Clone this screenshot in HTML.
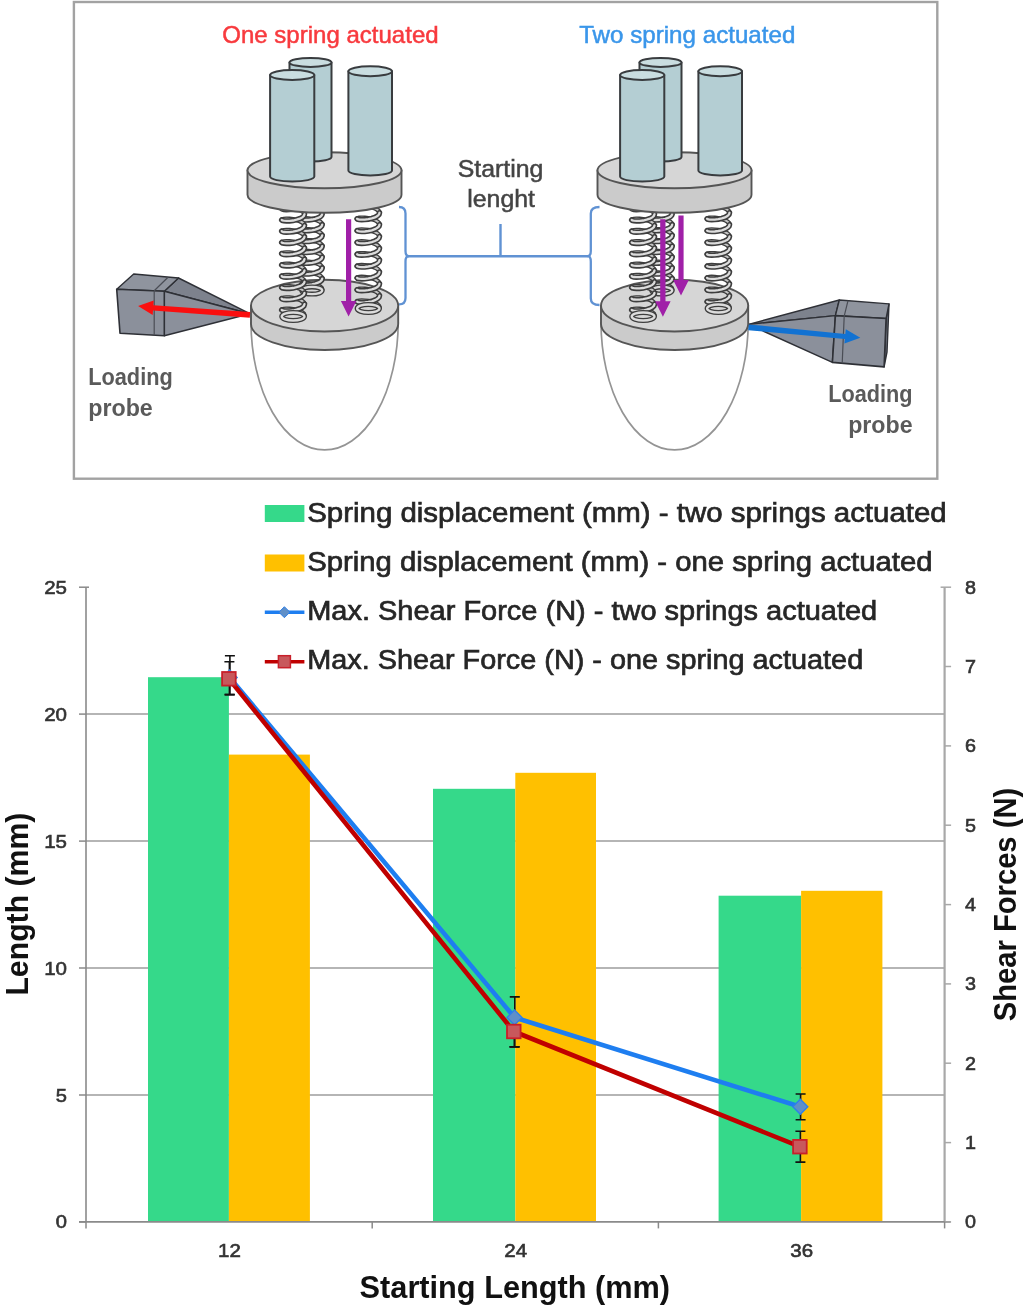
<!DOCTYPE html>
<html lang="en"><head><meta charset="utf-8"><title>Spring actuation figure</title>
<style>
html,body{margin:0;padding:0;background:#fff;}
body{width:1025px;height:1310px;overflow:hidden;}
svg{display:block;filter:blur(0.55px);}
</style></head><body>
<svg width="1025" height="1310" viewBox="0 0 1025 1310" font-family="'Liberation Sans', sans-serif">
<rect width="1025" height="1310" fill="#fff"/>
<rect x="73.9" y="2" width="863.4" height="476.7" fill="#fff" stroke="#a2a2a2" stroke-width="2.4"/>
<path d="M178.5,278 L249.8,313.7 L164.3,291.2 Z" fill="#7d828d" stroke="#2e3036" stroke-width="1.4" stroke-linejoin="round"/>
<path d="M164.3,291.2 L249.8,313.7 L164.3,335.7 Z" fill="#8b909b" stroke="#2e3036" stroke-width="1.4" stroke-linejoin="round"/>
<path d="M116.7,289.3 L133.7,274 L178.5,278 L164.3,291.2 Z" fill="#8f949e" stroke="#2e3036" stroke-width="1.4" stroke-linejoin="round"/>
<path d="M116.7,289.3 L164.3,291.2 L164.3,335.7 L120,333.2 Z" fill="#8b909b" stroke="#2e3036" stroke-width="1.6" stroke-linejoin="round"/>
<path d="M154.2,290.8 L154.2,335.2 M154.2,290.8 L168,277.2" fill="none" stroke="#4a4d55" stroke-width="1.2"/>
<path d="M839.3,300 L748.5,324.4 L835.4,315.6 Z" fill="#7d828d" stroke="#2e3036" stroke-width="1.4" stroke-linejoin="round"/>
<path d="M835.4,315.6 L748.5,324.4 L832.4,362.4 Z" fill="#8b909b" stroke="#2e3036" stroke-width="1.4" stroke-linejoin="round"/>
<path d="M886.1,318.5 L889,303.9 L887,352 L884.1,366.9 Z" fill="#6f747f" stroke="#2e3036" stroke-width="1.4" stroke-linejoin="round"/>
<path d="M835.4,315.6 L839.3,300 L889,303.9 L886.1,318.5 Z" fill="#8f949e" stroke="#2e3036" stroke-width="1.4" stroke-linejoin="round"/>
<path d="M835.4,315.6 L886.1,318.5 L884.1,366.9 L832.4,362.4 Z" fill="#8b909b" stroke="#2e3036" stroke-width="1.6" stroke-linejoin="round"/>
<path d="M844.2,316.1 L842.2,363.2 M844.2,316.1 L848,300.7" fill="none" stroke="#4a4d55" stroke-width="1.2"/>
<g transform="translate(0,0)">
<path d="M251,322 A73.6,128 0 0 0 398.2,322" fill="#fff" stroke="#949494" stroke-width="1.7"/>
<path d="M251,305.6 L251,324.1 A73.6,25.9 0 0 0 398.2,324.1 L398.2,305.6 Z" fill="#cbcbcb" stroke="#555" stroke-width="1.9" stroke-linejoin="round"/>
<ellipse cx="324.6" cy="305.6" rx="73.6" ry="25.9" fill="#d6d6d6" stroke="#555" stroke-width="1.9"/>
<path d="M301.8,208.4 L302.3,208 L303.7,207.7 L306,207.6 L308.8,207.7 L312,208.1 L315.2,208.8 L318,209.8 L320.3,211 L321.7,212.3 L322.2,213.8 M301.8,219.2 L302.3,218.8 L303.7,218.5 L306,218.4 L308.8,218.5 L312,218.9 L315.2,219.6 L318,220.6 L320.3,221.8 L321.7,223.2 L322.2,224.6 M301.8,230 L302.3,229.6 L303.7,229.3 L306,229.2 L308.8,229.3 L312,229.7 L315.2,230.4 L318,231.4 L320.3,232.6 L321.7,234 L322.2,235.4 M301.8,240.8 L302.3,240.5 L303.7,240.2 L306,240 L308.8,240.2 L312,240.5 L315.2,241.2 L318,242.2 L320.3,243.4 L321.7,244.8 L322.2,246.2 M301.8,251.7 L302.3,251.3 L303.7,251 L306,250.9 L308.8,251 L312,251.4 L315.2,252 L318,253 L320.3,254.2 L321.7,255.6 L322.2,257.1 M301.8,262.5 L302.3,262.1 L303.7,261.8 L306,261.7 L308.8,261.8 L312,262.2 L315.2,262.9 L318,263.8 L320.3,265 L321.7,266.4 L322.2,267.9 M301.8,273.3 L302.3,272.9 L303.7,272.6 L306,272.5 L308.8,272.6 L312,273 L315.2,273.7 L318,274.6 L320.3,275.8 L321.7,277.2 L322.2,278.7 M301.8,284.1 L302.3,283.7 L303.7,283.4 L306,283.3 L308.8,283.4 L312,283.8 L315.2,284.5 L318,285.5 L320.3,286.7 L321.7,288 L322.2,289.5" fill="none" stroke="#3e3e3e" stroke-width="4.6" stroke-linecap="round"/>
<path d="M301.8,208.4 L302.3,208 L303.7,207.7 L306,207.6 L308.8,207.7 L312,208.1 L315.2,208.8 L318,209.8 L320.3,211 L321.7,212.3 L322.2,213.8 M301.8,219.2 L302.3,218.8 L303.7,218.5 L306,218.4 L308.8,218.5 L312,218.9 L315.2,219.6 L318,220.6 L320.3,221.8 L321.7,223.2 L322.2,224.6 M301.8,230 L302.3,229.6 L303.7,229.3 L306,229.2 L308.8,229.3 L312,229.7 L315.2,230.4 L318,231.4 L320.3,232.6 L321.7,234 L322.2,235.4 M301.8,240.8 L302.3,240.5 L303.7,240.2 L306,240 L308.8,240.2 L312,240.5 L315.2,241.2 L318,242.2 L320.3,243.4 L321.7,244.8 L322.2,246.2 M301.8,251.7 L302.3,251.3 L303.7,251 L306,250.9 L308.8,251 L312,251.4 L315.2,252 L318,253 L320.3,254.2 L321.7,255.6 L322.2,257.1 M301.8,262.5 L302.3,262.1 L303.7,261.8 L306,261.7 L308.8,261.8 L312,262.2 L315.2,262.9 L318,263.8 L320.3,265 L321.7,266.4 L322.2,267.9 M301.8,273.3 L302.3,272.9 L303.7,272.6 L306,272.5 L308.8,272.6 L312,273 L315.2,273.7 L318,274.6 L320.3,275.8 L321.7,277.2 L322.2,278.7 M301.8,284.1 L302.3,283.7 L303.7,283.4 L306,283.3 L308.8,283.4 L312,283.8 L315.2,284.5 L318,285.5 L320.3,286.7 L321.7,288 L322.2,289.5" fill="none" stroke="#c4c4c4" stroke-width="2" stroke-linecap="round"/>
<path d="M322.2,203 L321.7,204.5 L320.3,205.8 L318,207 L315.2,208 L312,208.7 L308.8,209.1 L306,209.2 L303.7,209.1 L302.3,208.8 L301.8,208.4" fill="none" stroke="#3e3e3e" stroke-width="5.5" stroke-linecap="round"/>
<path d="M322.2,203 L321.7,204.5 L320.3,205.8 L318,207 L315.2,208 L312,208.7 L308.8,209.1 L306,209.2 L303.7,209.1 L302.3,208.8 L301.8,208.4" fill="none" stroke="#dcdcdc" stroke-width="2.3" stroke-linecap="round"/>
<path d="M322.2,213.8 L321.7,215.3 L320.3,216.7 L318,217.9 L315.2,218.8 L312,219.5 L308.8,219.9 L306,220 L303.7,219.9 L302.3,219.6 L301.8,219.2" fill="none" stroke="#3e3e3e" stroke-width="5.5" stroke-linecap="round"/>
<path d="M322.2,213.8 L321.7,215.3 L320.3,216.7 L318,217.9 L315.2,218.8 L312,219.5 L308.8,219.9 L306,220 L303.7,219.9 L302.3,219.6 L301.8,219.2" fill="none" stroke="#dcdcdc" stroke-width="2.3" stroke-linecap="round"/>
<path d="M322.2,224.6 L321.7,226.1 L320.3,227.5 L318,228.7 L315.2,229.6 L312,230.3 L308.8,230.7 L306,230.8 L303.7,230.7 L302.3,230.4 L301.8,230" fill="none" stroke="#3e3e3e" stroke-width="5.5" stroke-linecap="round"/>
<path d="M322.2,224.6 L321.7,226.1 L320.3,227.5 L318,228.7 L315.2,229.6 L312,230.3 L308.8,230.7 L306,230.8 L303.7,230.7 L302.3,230.4 L301.8,230" fill="none" stroke="#dcdcdc" stroke-width="2.3" stroke-linecap="round"/>
<path d="M322.2,235.4 L321.7,236.9 L320.3,238.3 L318,239.5 L315.2,240.5 L312,241.1 L308.8,241.5 L306,241.6 L303.7,241.5 L302.3,241.2 L301.8,240.8" fill="none" stroke="#3e3e3e" stroke-width="5.5" stroke-linecap="round"/>
<path d="M322.2,235.4 L321.7,236.9 L320.3,238.3 L318,239.5 L315.2,240.5 L312,241.1 L308.8,241.5 L306,241.6 L303.7,241.5 L302.3,241.2 L301.8,240.8" fill="none" stroke="#dcdcdc" stroke-width="2.3" stroke-linecap="round"/>
<path d="M322.2,246.2 L321.7,247.7 L320.3,249.1 L318,250.3 L315.2,251.3 L312,252 L308.8,252.3 L306,252.5 L303.7,252.3 L302.3,252 L301.8,251.7" fill="none" stroke="#3e3e3e" stroke-width="5.5" stroke-linecap="round"/>
<path d="M322.2,246.2 L321.7,247.7 L320.3,249.1 L318,250.3 L315.2,251.3 L312,252 L308.8,252.3 L306,252.5 L303.7,252.3 L302.3,252 L301.8,251.7" fill="none" stroke="#dcdcdc" stroke-width="2.3" stroke-linecap="round"/>
<path d="M322.2,257.1 L321.7,258.5 L320.3,259.9 L318,261.1 L315.2,262.1 L312,262.8 L308.8,263.2 L306,263.3 L303.7,263.2 L302.3,262.9 L301.8,262.5" fill="none" stroke="#3e3e3e" stroke-width="5.5" stroke-linecap="round"/>
<path d="M322.2,257.1 L321.7,258.5 L320.3,259.9 L318,261.1 L315.2,262.1 L312,262.8 L308.8,263.2 L306,263.3 L303.7,263.2 L302.3,262.9 L301.8,262.5" fill="none" stroke="#dcdcdc" stroke-width="2.3" stroke-linecap="round"/>
<path d="M322.2,267.9 L321.7,269.3 L320.3,270.7 L318,271.9 L315.2,272.9 L312,273.6 L308.8,274 L306,274.1 L303.7,274 L302.3,273.7 L301.8,273.3" fill="none" stroke="#3e3e3e" stroke-width="5.5" stroke-linecap="round"/>
<path d="M322.2,267.9 L321.7,269.3 L320.3,270.7 L318,271.9 L315.2,272.9 L312,273.6 L308.8,274 L306,274.1 L303.7,274 L302.3,273.7 L301.8,273.3" fill="none" stroke="#dcdcdc" stroke-width="2.3" stroke-linecap="round"/>
<path d="M322.2,278.7 L321.7,280.2 L320.3,281.5 L318,282.7 L315.2,283.7 L312,284.4 L308.8,284.8 L306,284.9 L303.7,284.8 L302.3,284.5 L301.8,284.1" fill="none" stroke="#3e3e3e" stroke-width="5.5" stroke-linecap="round"/>
<path d="M322.2,278.7 L321.7,280.2 L320.3,281.5 L318,282.7 L315.2,283.7 L312,284.4 L308.8,284.8 L306,284.9 L303.7,284.8 L302.3,284.5 L301.8,284.1" fill="none" stroke="#dcdcdc" stroke-width="2.3" stroke-linecap="round"/>
<ellipse cx="312" cy="290.5" rx="10.2" ry="3.6" fill="none" stroke="#3e3e3e" stroke-width="5" />
<ellipse cx="312" cy="290.5" rx="10.2" ry="3.6" fill="none" stroke="#dcdcdc" stroke-width="2.3" />
<path d="M281.7,208.6 L282.3,208.1 L283.9,207.8 L286.4,207.6 L289.6,207.6 L293.1,208 L296.6,208.8 L299.8,209.8 L302.3,211.1 L303.9,212.6 L304.5,214.2 M281.7,219.9 L282.3,219.4 L283.9,219 L286.4,218.8 L289.6,218.9 L293.1,219.3 L296.6,220 L299.8,221.1 L302.3,222.4 L303.9,223.9 L304.5,225.5 M281.7,231.1 L282.3,230.6 L283.9,230.3 L286.4,230.1 L289.6,230.1 L293.1,230.5 L296.6,231.3 L299.8,232.3 L302.3,233.6 L303.9,235.1 L304.5,236.8 M281.7,242.4 L282.3,241.9 L283.9,241.5 L286.4,241.3 L289.6,241.4 L293.1,241.8 L296.6,242.5 L299.8,243.6 L302.3,244.9 L303.9,246.4 L304.5,248 M281.7,253.6 L282.3,253.1 L283.9,252.8 L286.4,252.6 L289.6,252.6 L293.1,253 L296.6,253.8 L299.8,254.8 L302.3,256.1 L303.9,257.6 L304.5,259.2 M281.7,264.9 L282.3,264.4 L283.9,264 L286.4,263.8 L289.6,263.9 L293.1,264.3 L296.6,265 L299.8,266.1 L302.3,267.4 L303.9,268.9 L304.5,270.5 M281.7,276.1 L282.3,275.6 L283.9,275.3 L286.4,275.1 L289.6,275.1 L293.1,275.5 L296.6,276.3 L299.8,277.3 L302.3,278.6 L303.9,280.1 L304.5,281.8 M281.7,287.4 L282.3,286.9 L283.9,286.5 L286.4,286.3 L289.6,286.4 L293.1,286.8 L296.6,287.5 L299.8,288.6 L302.3,289.9 L303.9,291.4 L304.5,293 M281.7,298.6 L282.3,298.1 L283.9,297.8 L286.4,297.6 L289.6,297.6 L293.1,298 L296.6,298.8 L299.8,299.8 L302.3,301.1 L303.9,302.6 L304.5,304.2 M281.7,309.9 L282.3,309.4 L283.9,309 L286.4,308.8 L289.6,308.9 L293.1,309.3 L296.6,310 L299.8,311.1 L302.3,312.4 L303.9,313.9 L304.5,315.5" fill="none" stroke="#3e3e3e" stroke-width="4.6" stroke-linecap="round"/>
<path d="M281.7,208.6 L282.3,208.1 L283.9,207.8 L286.4,207.6 L289.6,207.6 L293.1,208 L296.6,208.8 L299.8,209.8 L302.3,211.1 L303.9,212.6 L304.5,214.2 M281.7,219.9 L282.3,219.4 L283.9,219 L286.4,218.8 L289.6,218.9 L293.1,219.3 L296.6,220 L299.8,221.1 L302.3,222.4 L303.9,223.9 L304.5,225.5 M281.7,231.1 L282.3,230.6 L283.9,230.3 L286.4,230.1 L289.6,230.1 L293.1,230.5 L296.6,231.3 L299.8,232.3 L302.3,233.6 L303.9,235.1 L304.5,236.8 M281.7,242.4 L282.3,241.9 L283.9,241.5 L286.4,241.3 L289.6,241.4 L293.1,241.8 L296.6,242.5 L299.8,243.6 L302.3,244.9 L303.9,246.4 L304.5,248 M281.7,253.6 L282.3,253.1 L283.9,252.8 L286.4,252.6 L289.6,252.6 L293.1,253 L296.6,253.8 L299.8,254.8 L302.3,256.1 L303.9,257.6 L304.5,259.2 M281.7,264.9 L282.3,264.4 L283.9,264 L286.4,263.8 L289.6,263.9 L293.1,264.3 L296.6,265 L299.8,266.1 L302.3,267.4 L303.9,268.9 L304.5,270.5 M281.7,276.1 L282.3,275.6 L283.9,275.3 L286.4,275.1 L289.6,275.1 L293.1,275.5 L296.6,276.3 L299.8,277.3 L302.3,278.6 L303.9,280.1 L304.5,281.8 M281.7,287.4 L282.3,286.9 L283.9,286.5 L286.4,286.3 L289.6,286.4 L293.1,286.8 L296.6,287.5 L299.8,288.6 L302.3,289.9 L303.9,291.4 L304.5,293 M281.7,298.6 L282.3,298.1 L283.9,297.8 L286.4,297.6 L289.6,297.6 L293.1,298 L296.6,298.8 L299.8,299.8 L302.3,301.1 L303.9,302.6 L304.5,304.2 M281.7,309.9 L282.3,309.4 L283.9,309 L286.4,308.8 L289.6,308.9 L293.1,309.3 L296.6,310 L299.8,311.1 L302.3,312.4 L303.9,313.9 L304.5,315.5" fill="none" stroke="#c4c4c4" stroke-width="2" stroke-linecap="round"/>
<path d="M304.5,203 L303.9,204.6 L302.3,206.1 L299.8,207.4 L296.6,208.5 L293.1,209.2 L289.6,209.6 L286.4,209.7 L283.9,209.5 L282.3,209.1 L281.7,208.6" fill="none" stroke="#3e3e3e" stroke-width="5.5" stroke-linecap="round"/>
<path d="M304.5,203 L303.9,204.6 L302.3,206.1 L299.8,207.4 L296.6,208.5 L293.1,209.2 L289.6,209.6 L286.4,209.7 L283.9,209.5 L282.3,209.1 L281.7,208.6" fill="none" stroke="#dcdcdc" stroke-width="2.3" stroke-linecap="round"/>
<path d="M304.5,214.2 L303.9,215.9 L302.3,217.4 L299.8,218.7 L296.6,219.7 L293.1,220.5 L289.6,220.9 L286.4,220.9 L283.9,220.7 L282.3,220.4 L281.7,219.9" fill="none" stroke="#3e3e3e" stroke-width="5.5" stroke-linecap="round"/>
<path d="M304.5,214.2 L303.9,215.9 L302.3,217.4 L299.8,218.7 L296.6,219.7 L293.1,220.5 L289.6,220.9 L286.4,220.9 L283.9,220.7 L282.3,220.4 L281.7,219.9" fill="none" stroke="#dcdcdc" stroke-width="2.3" stroke-linecap="round"/>
<path d="M304.5,225.5 L303.9,227.1 L302.3,228.6 L299.8,229.9 L296.6,231 L293.1,231.7 L289.6,232.1 L286.4,232.2 L283.9,232 L282.3,231.6 L281.7,231.1" fill="none" stroke="#3e3e3e" stroke-width="5.5" stroke-linecap="round"/>
<path d="M304.5,225.5 L303.9,227.1 L302.3,228.6 L299.8,229.9 L296.6,231 L293.1,231.7 L289.6,232.1 L286.4,232.2 L283.9,232 L282.3,231.6 L281.7,231.1" fill="none" stroke="#dcdcdc" stroke-width="2.3" stroke-linecap="round"/>
<path d="M304.5,236.8 L303.9,238.4 L302.3,239.9 L299.8,241.2 L296.6,242.2 L293.1,243 L289.6,243.4 L286.4,243.4 L283.9,243.2 L282.3,242.9 L281.7,242.4" fill="none" stroke="#3e3e3e" stroke-width="5.5" stroke-linecap="round"/>
<path d="M304.5,236.8 L303.9,238.4 L302.3,239.9 L299.8,241.2 L296.6,242.2 L293.1,243 L289.6,243.4 L286.4,243.4 L283.9,243.2 L282.3,242.9 L281.7,242.4" fill="none" stroke="#dcdcdc" stroke-width="2.3" stroke-linecap="round"/>
<path d="M304.5,248 L303.9,249.6 L302.3,251.1 L299.8,252.4 L296.6,253.5 L293.1,254.2 L289.6,254.6 L286.4,254.7 L283.9,254.5 L282.3,254.1 L281.7,253.6" fill="none" stroke="#3e3e3e" stroke-width="5.5" stroke-linecap="round"/>
<path d="M304.5,248 L303.9,249.6 L302.3,251.1 L299.8,252.4 L296.6,253.5 L293.1,254.2 L289.6,254.6 L286.4,254.7 L283.9,254.5 L282.3,254.1 L281.7,253.6" fill="none" stroke="#dcdcdc" stroke-width="2.3" stroke-linecap="round"/>
<path d="M304.5,259.2 L303.9,260.9 L302.3,262.4 L299.8,263.7 L296.6,264.7 L293.1,265.5 L289.6,265.9 L286.4,265.9 L283.9,265.7 L282.3,265.4 L281.7,264.9" fill="none" stroke="#3e3e3e" stroke-width="5.5" stroke-linecap="round"/>
<path d="M304.5,259.2 L303.9,260.9 L302.3,262.4 L299.8,263.7 L296.6,264.7 L293.1,265.5 L289.6,265.9 L286.4,265.9 L283.9,265.7 L282.3,265.4 L281.7,264.9" fill="none" stroke="#dcdcdc" stroke-width="2.3" stroke-linecap="round"/>
<path d="M304.5,270.5 L303.9,272.1 L302.3,273.6 L299.8,274.9 L296.6,276 L293.1,276.7 L289.6,277.1 L286.4,277.2 L283.9,277 L282.3,276.6 L281.7,276.1" fill="none" stroke="#3e3e3e" stroke-width="5.5" stroke-linecap="round"/>
<path d="M304.5,270.5 L303.9,272.1 L302.3,273.6 L299.8,274.9 L296.6,276 L293.1,276.7 L289.6,277.1 L286.4,277.2 L283.9,277 L282.3,276.6 L281.7,276.1" fill="none" stroke="#dcdcdc" stroke-width="2.3" stroke-linecap="round"/>
<path d="M304.5,281.8 L303.9,283.4 L302.3,284.9 L299.8,286.2 L296.6,287.2 L293.1,288 L289.6,288.4 L286.4,288.4 L283.9,288.2 L282.3,287.9 L281.7,287.4" fill="none" stroke="#3e3e3e" stroke-width="5.5" stroke-linecap="round"/>
<path d="M304.5,281.8 L303.9,283.4 L302.3,284.9 L299.8,286.2 L296.6,287.2 L293.1,288 L289.6,288.4 L286.4,288.4 L283.9,288.2 L282.3,287.9 L281.7,287.4" fill="none" stroke="#dcdcdc" stroke-width="2.3" stroke-linecap="round"/>
<path d="M304.5,293 L303.9,294.6 L302.3,296.1 L299.8,297.4 L296.6,298.5 L293.1,299.2 L289.6,299.6 L286.4,299.7 L283.9,299.5 L282.3,299.1 L281.7,298.6" fill="none" stroke="#3e3e3e" stroke-width="5.5" stroke-linecap="round"/>
<path d="M304.5,293 L303.9,294.6 L302.3,296.1 L299.8,297.4 L296.6,298.5 L293.1,299.2 L289.6,299.6 L286.4,299.7 L283.9,299.5 L282.3,299.1 L281.7,298.6" fill="none" stroke="#dcdcdc" stroke-width="2.3" stroke-linecap="round"/>
<path d="M304.5,304.2 L303.9,305.9 L302.3,307.4 L299.8,308.7 L296.6,309.7 L293.1,310.5 L289.6,310.9 L286.4,310.9 L283.9,310.7 L282.3,310.4 L281.7,309.9" fill="none" stroke="#3e3e3e" stroke-width="5.5" stroke-linecap="round"/>
<path d="M304.5,304.2 L303.9,305.9 L302.3,307.4 L299.8,308.7 L296.6,309.7 L293.1,310.5 L289.6,310.9 L286.4,310.9 L283.9,310.7 L282.3,310.4 L281.7,309.9" fill="none" stroke="#dcdcdc" stroke-width="2.3" stroke-linecap="round"/>
<ellipse cx="293.1" cy="316.5" rx="11.4" ry="4" fill="none" stroke="#3e3e3e" stroke-width="5" />
<ellipse cx="293.1" cy="316.5" rx="11.4" ry="4" fill="none" stroke="#dcdcdc" stroke-width="2.3" />
<path d="M357.1,206.9 L357.6,206.5 L359.2,206.1 L361.7,205.9 L364.8,206 L368.3,206.5 L371.8,207.2 L374.9,208.3 L377.4,209.7 L379,211.2 L379.5,212.8 M357.1,218.8 L357.6,218.3 L359.2,217.9 L361.7,217.8 L364.8,217.9 L368.3,218.3 L371.8,219.1 L374.9,220.1 L377.4,221.5 L379,223 L379.5,224.7 M357.1,230.6 L357.6,230.1 L359.2,229.8 L361.7,229.6 L364.8,229.7 L368.3,230.1 L371.8,230.9 L374.9,232 L377.4,233.3 L379,234.9 L379.5,236.5 M357.1,242.4 L357.6,242 L359.2,241.6 L361.7,241.4 L364.8,241.5 L368.3,242 L371.8,242.7 L374.9,243.8 L377.4,245.2 L379,246.7 L379.5,248.3 M357.1,254.2 L357.6,253.8 L359.2,253.4 L361.7,253.3 L364.8,253.4 L368.3,253.8 L371.8,254.6 L374.9,255.6 L377.4,257 L379,258.5 L379.5,260.2 M357.1,266.1 L357.6,265.6 L359.2,265.3 L361.7,265.1 L364.8,265.2 L368.3,265.6 L371.8,266.4 L374.9,267.5 L377.4,268.8 L379,270.4 L379.5,272 M357.1,277.9 L357.6,277.5 L359.2,277.1 L361.7,276.9 L364.8,277 L368.3,277.5 L371.8,278.2 L374.9,279.3 L377.4,280.7 L379,282.2 L379.5,283.8 M357.1,289.8 L357.6,289.3 L359.2,288.9 L361.7,288.8 L364.8,288.9 L368.3,289.3 L371.8,290.1 L374.9,291.1 L377.4,292.5 L379,294 L379.5,295.7 M357.1,301.6 L357.6,301.1 L359.2,300.8 L361.7,300.6 L364.8,300.7 L368.3,301.1 L371.8,301.9 L374.9,303 L377.4,304.3 L379,305.9 L379.5,307.5" fill="none" stroke="#3e3e3e" stroke-width="4.6" stroke-linecap="round"/>
<path d="M357.1,206.9 L357.6,206.5 L359.2,206.1 L361.7,205.9 L364.8,206 L368.3,206.5 L371.8,207.2 L374.9,208.3 L377.4,209.7 L379,211.2 L379.5,212.8 M357.1,218.8 L357.6,218.3 L359.2,217.9 L361.7,217.8 L364.8,217.9 L368.3,218.3 L371.8,219.1 L374.9,220.1 L377.4,221.5 L379,223 L379.5,224.7 M357.1,230.6 L357.6,230.1 L359.2,229.8 L361.7,229.6 L364.8,229.7 L368.3,230.1 L371.8,230.9 L374.9,232 L377.4,233.3 L379,234.9 L379.5,236.5 M357.1,242.4 L357.6,242 L359.2,241.6 L361.7,241.4 L364.8,241.5 L368.3,242 L371.8,242.7 L374.9,243.8 L377.4,245.2 L379,246.7 L379.5,248.3 M357.1,254.2 L357.6,253.8 L359.2,253.4 L361.7,253.3 L364.8,253.4 L368.3,253.8 L371.8,254.6 L374.9,255.6 L377.4,257 L379,258.5 L379.5,260.2 M357.1,266.1 L357.6,265.6 L359.2,265.3 L361.7,265.1 L364.8,265.2 L368.3,265.6 L371.8,266.4 L374.9,267.5 L377.4,268.8 L379,270.4 L379.5,272 M357.1,277.9 L357.6,277.5 L359.2,277.1 L361.7,276.9 L364.8,277 L368.3,277.5 L371.8,278.2 L374.9,279.3 L377.4,280.7 L379,282.2 L379.5,283.8 M357.1,289.8 L357.6,289.3 L359.2,288.9 L361.7,288.8 L364.8,288.9 L368.3,289.3 L371.8,290.1 L374.9,291.1 L377.4,292.5 L379,294 L379.5,295.7 M357.1,301.6 L357.6,301.1 L359.2,300.8 L361.7,300.6 L364.8,300.7 L368.3,301.1 L371.8,301.9 L374.9,303 L377.4,304.3 L379,305.9 L379.5,307.5" fill="none" stroke="#c4c4c4" stroke-width="2" stroke-linecap="round"/>
<path d="M379.5,201 L379,202.6 L377.4,204.2 L374.9,205.5 L371.8,206.6 L368.3,207.4 L364.8,207.8 L361.7,207.9 L359.2,207.7 L357.6,207.4 L357.1,206.9" fill="none" stroke="#3e3e3e" stroke-width="5.5" stroke-linecap="round"/>
<path d="M379.5,201 L379,202.6 L377.4,204.2 L374.9,205.5 L371.8,206.6 L368.3,207.4 L364.8,207.8 L361.7,207.9 L359.2,207.7 L357.6,207.4 L357.1,206.9" fill="none" stroke="#dcdcdc" stroke-width="2.3" stroke-linecap="round"/>
<path d="M379.5,212.8 L379,214.5 L377.4,216 L374.9,217.4 L371.8,218.4 L368.3,219.2 L364.8,219.6 L361.7,219.7 L359.2,219.6 L357.6,219.2 L357.1,218.8" fill="none" stroke="#3e3e3e" stroke-width="5.5" stroke-linecap="round"/>
<path d="M379.5,212.8 L379,214.5 L377.4,216 L374.9,217.4 L371.8,218.4 L368.3,219.2 L364.8,219.6 L361.7,219.7 L359.2,219.6 L357.6,219.2 L357.1,218.8" fill="none" stroke="#dcdcdc" stroke-width="2.3" stroke-linecap="round"/>
<path d="M379.5,224.7 L379,226.3 L377.4,227.8 L374.9,229.2 L371.8,230.3 L368.3,231 L364.8,231.5 L361.7,231.6 L359.2,231.4 L357.6,231 L357.1,230.6" fill="none" stroke="#3e3e3e" stroke-width="5.5" stroke-linecap="round"/>
<path d="M379.5,224.7 L379,226.3 L377.4,227.8 L374.9,229.2 L371.8,230.3 L368.3,231 L364.8,231.5 L361.7,231.6 L359.2,231.4 L357.6,231 L357.1,230.6" fill="none" stroke="#dcdcdc" stroke-width="2.3" stroke-linecap="round"/>
<path d="M379.5,236.5 L379,238.1 L377.4,239.7 L374.9,241 L371.8,242.1 L368.3,242.9 L364.8,243.3 L361.7,243.4 L359.2,243.2 L357.6,242.9 L357.1,242.4" fill="none" stroke="#3e3e3e" stroke-width="5.5" stroke-linecap="round"/>
<path d="M379.5,236.5 L379,238.1 L377.4,239.7 L374.9,241 L371.8,242.1 L368.3,242.9 L364.8,243.3 L361.7,243.4 L359.2,243.2 L357.6,242.9 L357.1,242.4" fill="none" stroke="#dcdcdc" stroke-width="2.3" stroke-linecap="round"/>
<path d="M379.5,248.3 L379,250 L377.4,251.5 L374.9,252.9 L371.8,253.9 L368.3,254.7 L364.8,255.1 L361.7,255.2 L359.2,255.1 L357.6,254.7 L357.1,254.2" fill="none" stroke="#3e3e3e" stroke-width="5.5" stroke-linecap="round"/>
<path d="M379.5,248.3 L379,250 L377.4,251.5 L374.9,252.9 L371.8,253.9 L368.3,254.7 L364.8,255.1 L361.7,255.2 L359.2,255.1 L357.6,254.7 L357.1,254.2" fill="none" stroke="#dcdcdc" stroke-width="2.3" stroke-linecap="round"/>
<path d="M379.5,260.2 L379,261.8 L377.4,263.3 L374.9,264.7 L371.8,265.8 L368.3,266.5 L364.8,267 L361.7,267.1 L359.2,266.9 L357.6,266.5 L357.1,266.1" fill="none" stroke="#3e3e3e" stroke-width="5.5" stroke-linecap="round"/>
<path d="M379.5,260.2 L379,261.8 L377.4,263.3 L374.9,264.7 L371.8,265.8 L368.3,266.5 L364.8,267 L361.7,267.1 L359.2,266.9 L357.6,266.5 L357.1,266.1" fill="none" stroke="#dcdcdc" stroke-width="2.3" stroke-linecap="round"/>
<path d="M379.5,272 L379,273.6 L377.4,275.2 L374.9,276.5 L371.8,277.6 L368.3,278.4 L364.8,278.8 L361.7,278.9 L359.2,278.7 L357.6,278.4 L357.1,277.9" fill="none" stroke="#3e3e3e" stroke-width="5.5" stroke-linecap="round"/>
<path d="M379.5,272 L379,273.6 L377.4,275.2 L374.9,276.5 L371.8,277.6 L368.3,278.4 L364.8,278.8 L361.7,278.9 L359.2,278.7 L357.6,278.4 L357.1,277.9" fill="none" stroke="#dcdcdc" stroke-width="2.3" stroke-linecap="round"/>
<path d="M379.5,283.8 L379,285.5 L377.4,287 L374.9,288.4 L371.8,289.4 L368.3,290.2 L364.8,290.6 L361.7,290.7 L359.2,290.6 L357.6,290.2 L357.1,289.8" fill="none" stroke="#3e3e3e" stroke-width="5.5" stroke-linecap="round"/>
<path d="M379.5,283.8 L379,285.5 L377.4,287 L374.9,288.4 L371.8,289.4 L368.3,290.2 L364.8,290.6 L361.7,290.7 L359.2,290.6 L357.6,290.2 L357.1,289.8" fill="none" stroke="#dcdcdc" stroke-width="2.3" stroke-linecap="round"/>
<path d="M379.5,295.7 L379,297.3 L377.4,298.8 L374.9,300.2 L371.8,301.3 L368.3,302 L364.8,302.5 L361.7,302.6 L359.2,302.4 L357.6,302 L357.1,301.6" fill="none" stroke="#3e3e3e" stroke-width="5.5" stroke-linecap="round"/>
<path d="M379.5,295.7 L379,297.3 L377.4,298.8 L374.9,300.2 L371.8,301.3 L368.3,302 L364.8,302.5 L361.7,302.6 L359.2,302.4 L357.6,302 L357.1,301.6" fill="none" stroke="#dcdcdc" stroke-width="2.3" stroke-linecap="round"/>
<ellipse cx="368.3" cy="308.5" rx="11.2" ry="4" fill="none" stroke="#3e3e3e" stroke-width="5" />
<ellipse cx="368.3" cy="308.5" rx="11.2" ry="4" fill="none" stroke="#dcdcdc" stroke-width="2.3" />
<path d="M346,219.3 L351.2,219.3 L351.2,300.9 L356.4,300.9 L348.6,316.4 L340.9,300.9 L346,300.9 Z" fill="#a020a8"/>
<path d="M247.5,170.3 L247.5,194.8 A77,18 0 0 0 401.5,194.8 L401.5,170.3 Z" fill="#cbcbcb" stroke="#555" stroke-width="1.9" stroke-linejoin="round"/>
<ellipse cx="324.5" cy="170.3" rx="77" ry="18" fill="#d6d6d6" stroke="#555" stroke-width="1.9"/>
<path d="M289.5,62.4 L289.5,157 A21,4.5 0 0 0 331.5,157 L331.5,62.4 Z" fill="#b4ced3" stroke="#393c3f" stroke-width="2" stroke-linejoin="round"/>
<ellipse cx="310.5" cy="62.4" rx="21" ry="4.5" fill="#c9dde0" stroke="#393c3f" stroke-width="2"/>
<path d="M270.1,75 L270.1,176.6 A22.1,5 0 0 0 314.3,176.6 L314.3,75 Z" fill="#b4ced3" stroke="#393c3f" stroke-width="2" stroke-linejoin="round"/>
<ellipse cx="292.2" cy="75" rx="22.1" ry="5" fill="#c9dde0" stroke="#393c3f" stroke-width="2"/>
<path d="M348.4,71.2 L348.4,170.5 A21.8,5 0 0 0 392,170.5 L392,71.2 Z" fill="#b4ced3" stroke="#393c3f" stroke-width="2" stroke-linejoin="round"/>
<ellipse cx="370.2" cy="71.2" rx="21.8" ry="5" fill="#c9dde0" stroke="#393c3f" stroke-width="2"/>
</g>
<g transform="translate(350,0)">
<path d="M251,322 A73.6,128 0 0 0 398.2,322" fill="#fff" stroke="#949494" stroke-width="1.7"/>
<path d="M251,305.6 L251,324.1 A73.6,25.9 0 0 0 398.2,324.1 L398.2,305.6 Z" fill="#cbcbcb" stroke="#555" stroke-width="1.9" stroke-linejoin="round"/>
<ellipse cx="324.6" cy="305.6" rx="73.6" ry="25.9" fill="#d6d6d6" stroke="#555" stroke-width="1.9"/>
<path d="M301.8,208.4 L302.3,208 L303.7,207.7 L306,207.6 L308.8,207.7 L312,208.1 L315.2,208.8 L318,209.8 L320.3,211 L321.7,212.3 L322.2,213.8 M301.8,219.2 L302.3,218.8 L303.7,218.5 L306,218.4 L308.8,218.5 L312,218.9 L315.2,219.6 L318,220.6 L320.3,221.8 L321.7,223.2 L322.2,224.6 M301.8,230 L302.3,229.6 L303.7,229.3 L306,229.2 L308.8,229.3 L312,229.7 L315.2,230.4 L318,231.4 L320.3,232.6 L321.7,234 L322.2,235.4 M301.8,240.8 L302.3,240.5 L303.7,240.2 L306,240 L308.8,240.2 L312,240.5 L315.2,241.2 L318,242.2 L320.3,243.4 L321.7,244.8 L322.2,246.2 M301.8,251.7 L302.3,251.3 L303.7,251 L306,250.9 L308.8,251 L312,251.4 L315.2,252 L318,253 L320.3,254.2 L321.7,255.6 L322.2,257.1 M301.8,262.5 L302.3,262.1 L303.7,261.8 L306,261.7 L308.8,261.8 L312,262.2 L315.2,262.9 L318,263.8 L320.3,265 L321.7,266.4 L322.2,267.9 M301.8,273.3 L302.3,272.9 L303.7,272.6 L306,272.5 L308.8,272.6 L312,273 L315.2,273.7 L318,274.6 L320.3,275.8 L321.7,277.2 L322.2,278.7 M301.8,284.1 L302.3,283.7 L303.7,283.4 L306,283.3 L308.8,283.4 L312,283.8 L315.2,284.5 L318,285.5 L320.3,286.7 L321.7,288 L322.2,289.5" fill="none" stroke="#3e3e3e" stroke-width="4.6" stroke-linecap="round"/>
<path d="M301.8,208.4 L302.3,208 L303.7,207.7 L306,207.6 L308.8,207.7 L312,208.1 L315.2,208.8 L318,209.8 L320.3,211 L321.7,212.3 L322.2,213.8 M301.8,219.2 L302.3,218.8 L303.7,218.5 L306,218.4 L308.8,218.5 L312,218.9 L315.2,219.6 L318,220.6 L320.3,221.8 L321.7,223.2 L322.2,224.6 M301.8,230 L302.3,229.6 L303.7,229.3 L306,229.2 L308.8,229.3 L312,229.7 L315.2,230.4 L318,231.4 L320.3,232.6 L321.7,234 L322.2,235.4 M301.8,240.8 L302.3,240.5 L303.7,240.2 L306,240 L308.8,240.2 L312,240.5 L315.2,241.2 L318,242.2 L320.3,243.4 L321.7,244.8 L322.2,246.2 M301.8,251.7 L302.3,251.3 L303.7,251 L306,250.9 L308.8,251 L312,251.4 L315.2,252 L318,253 L320.3,254.2 L321.7,255.6 L322.2,257.1 M301.8,262.5 L302.3,262.1 L303.7,261.8 L306,261.7 L308.8,261.8 L312,262.2 L315.2,262.9 L318,263.8 L320.3,265 L321.7,266.4 L322.2,267.9 M301.8,273.3 L302.3,272.9 L303.7,272.6 L306,272.5 L308.8,272.6 L312,273 L315.2,273.7 L318,274.6 L320.3,275.8 L321.7,277.2 L322.2,278.7 M301.8,284.1 L302.3,283.7 L303.7,283.4 L306,283.3 L308.8,283.4 L312,283.8 L315.2,284.5 L318,285.5 L320.3,286.7 L321.7,288 L322.2,289.5" fill="none" stroke="#c4c4c4" stroke-width="2" stroke-linecap="round"/>
<path d="M322.2,203 L321.7,204.5 L320.3,205.8 L318,207 L315.2,208 L312,208.7 L308.8,209.1 L306,209.2 L303.7,209.1 L302.3,208.8 L301.8,208.4" fill="none" stroke="#3e3e3e" stroke-width="5.5" stroke-linecap="round"/>
<path d="M322.2,203 L321.7,204.5 L320.3,205.8 L318,207 L315.2,208 L312,208.7 L308.8,209.1 L306,209.2 L303.7,209.1 L302.3,208.8 L301.8,208.4" fill="none" stroke="#dcdcdc" stroke-width="2.3" stroke-linecap="round"/>
<path d="M322.2,213.8 L321.7,215.3 L320.3,216.7 L318,217.9 L315.2,218.8 L312,219.5 L308.8,219.9 L306,220 L303.7,219.9 L302.3,219.6 L301.8,219.2" fill="none" stroke="#3e3e3e" stroke-width="5.5" stroke-linecap="round"/>
<path d="M322.2,213.8 L321.7,215.3 L320.3,216.7 L318,217.9 L315.2,218.8 L312,219.5 L308.8,219.9 L306,220 L303.7,219.9 L302.3,219.6 L301.8,219.2" fill="none" stroke="#dcdcdc" stroke-width="2.3" stroke-linecap="round"/>
<path d="M322.2,224.6 L321.7,226.1 L320.3,227.5 L318,228.7 L315.2,229.6 L312,230.3 L308.8,230.7 L306,230.8 L303.7,230.7 L302.3,230.4 L301.8,230" fill="none" stroke="#3e3e3e" stroke-width="5.5" stroke-linecap="round"/>
<path d="M322.2,224.6 L321.7,226.1 L320.3,227.5 L318,228.7 L315.2,229.6 L312,230.3 L308.8,230.7 L306,230.8 L303.7,230.7 L302.3,230.4 L301.8,230" fill="none" stroke="#dcdcdc" stroke-width="2.3" stroke-linecap="round"/>
<path d="M322.2,235.4 L321.7,236.9 L320.3,238.3 L318,239.5 L315.2,240.5 L312,241.1 L308.8,241.5 L306,241.6 L303.7,241.5 L302.3,241.2 L301.8,240.8" fill="none" stroke="#3e3e3e" stroke-width="5.5" stroke-linecap="round"/>
<path d="M322.2,235.4 L321.7,236.9 L320.3,238.3 L318,239.5 L315.2,240.5 L312,241.1 L308.8,241.5 L306,241.6 L303.7,241.5 L302.3,241.2 L301.8,240.8" fill="none" stroke="#dcdcdc" stroke-width="2.3" stroke-linecap="round"/>
<path d="M322.2,246.2 L321.7,247.7 L320.3,249.1 L318,250.3 L315.2,251.3 L312,252 L308.8,252.3 L306,252.5 L303.7,252.3 L302.3,252 L301.8,251.7" fill="none" stroke="#3e3e3e" stroke-width="5.5" stroke-linecap="round"/>
<path d="M322.2,246.2 L321.7,247.7 L320.3,249.1 L318,250.3 L315.2,251.3 L312,252 L308.8,252.3 L306,252.5 L303.7,252.3 L302.3,252 L301.8,251.7" fill="none" stroke="#dcdcdc" stroke-width="2.3" stroke-linecap="round"/>
<path d="M322.2,257.1 L321.7,258.5 L320.3,259.9 L318,261.1 L315.2,262.1 L312,262.8 L308.8,263.2 L306,263.3 L303.7,263.2 L302.3,262.9 L301.8,262.5" fill="none" stroke="#3e3e3e" stroke-width="5.5" stroke-linecap="round"/>
<path d="M322.2,257.1 L321.7,258.5 L320.3,259.9 L318,261.1 L315.2,262.1 L312,262.8 L308.8,263.2 L306,263.3 L303.7,263.2 L302.3,262.9 L301.8,262.5" fill="none" stroke="#dcdcdc" stroke-width="2.3" stroke-linecap="round"/>
<path d="M322.2,267.9 L321.7,269.3 L320.3,270.7 L318,271.9 L315.2,272.9 L312,273.6 L308.8,274 L306,274.1 L303.7,274 L302.3,273.7 L301.8,273.3" fill="none" stroke="#3e3e3e" stroke-width="5.5" stroke-linecap="round"/>
<path d="M322.2,267.9 L321.7,269.3 L320.3,270.7 L318,271.9 L315.2,272.9 L312,273.6 L308.8,274 L306,274.1 L303.7,274 L302.3,273.7 L301.8,273.3" fill="none" stroke="#dcdcdc" stroke-width="2.3" stroke-linecap="round"/>
<path d="M322.2,278.7 L321.7,280.2 L320.3,281.5 L318,282.7 L315.2,283.7 L312,284.4 L308.8,284.8 L306,284.9 L303.7,284.8 L302.3,284.5 L301.8,284.1" fill="none" stroke="#3e3e3e" stroke-width="5.5" stroke-linecap="round"/>
<path d="M322.2,278.7 L321.7,280.2 L320.3,281.5 L318,282.7 L315.2,283.7 L312,284.4 L308.8,284.8 L306,284.9 L303.7,284.8 L302.3,284.5 L301.8,284.1" fill="none" stroke="#dcdcdc" stroke-width="2.3" stroke-linecap="round"/>
<ellipse cx="312" cy="290.5" rx="10.2" ry="3.6" fill="none" stroke="#3e3e3e" stroke-width="5" />
<ellipse cx="312" cy="290.5" rx="10.2" ry="3.6" fill="none" stroke="#dcdcdc" stroke-width="2.3" />
<path d="M281.7,208.6 L282.3,208.1 L283.9,207.8 L286.4,207.6 L289.6,207.6 L293.1,208 L296.6,208.8 L299.8,209.8 L302.3,211.1 L303.9,212.6 L304.5,214.2 M281.7,219.9 L282.3,219.4 L283.9,219 L286.4,218.8 L289.6,218.9 L293.1,219.3 L296.6,220 L299.8,221.1 L302.3,222.4 L303.9,223.9 L304.5,225.5 M281.7,231.1 L282.3,230.6 L283.9,230.3 L286.4,230.1 L289.6,230.1 L293.1,230.5 L296.6,231.3 L299.8,232.3 L302.3,233.6 L303.9,235.1 L304.5,236.8 M281.7,242.4 L282.3,241.9 L283.9,241.5 L286.4,241.3 L289.6,241.4 L293.1,241.8 L296.6,242.5 L299.8,243.6 L302.3,244.9 L303.9,246.4 L304.5,248 M281.7,253.6 L282.3,253.1 L283.9,252.8 L286.4,252.6 L289.6,252.6 L293.1,253 L296.6,253.8 L299.8,254.8 L302.3,256.1 L303.9,257.6 L304.5,259.2 M281.7,264.9 L282.3,264.4 L283.9,264 L286.4,263.8 L289.6,263.9 L293.1,264.3 L296.6,265 L299.8,266.1 L302.3,267.4 L303.9,268.9 L304.5,270.5 M281.7,276.1 L282.3,275.6 L283.9,275.3 L286.4,275.1 L289.6,275.1 L293.1,275.5 L296.6,276.3 L299.8,277.3 L302.3,278.6 L303.9,280.1 L304.5,281.8 M281.7,287.4 L282.3,286.9 L283.9,286.5 L286.4,286.3 L289.6,286.4 L293.1,286.8 L296.6,287.5 L299.8,288.6 L302.3,289.9 L303.9,291.4 L304.5,293 M281.7,298.6 L282.3,298.1 L283.9,297.8 L286.4,297.6 L289.6,297.6 L293.1,298 L296.6,298.8 L299.8,299.8 L302.3,301.1 L303.9,302.6 L304.5,304.2 M281.7,309.9 L282.3,309.4 L283.9,309 L286.4,308.8 L289.6,308.9 L293.1,309.3 L296.6,310 L299.8,311.1 L302.3,312.4 L303.9,313.9 L304.5,315.5" fill="none" stroke="#3e3e3e" stroke-width="4.6" stroke-linecap="round"/>
<path d="M281.7,208.6 L282.3,208.1 L283.9,207.8 L286.4,207.6 L289.6,207.6 L293.1,208 L296.6,208.8 L299.8,209.8 L302.3,211.1 L303.9,212.6 L304.5,214.2 M281.7,219.9 L282.3,219.4 L283.9,219 L286.4,218.8 L289.6,218.9 L293.1,219.3 L296.6,220 L299.8,221.1 L302.3,222.4 L303.9,223.9 L304.5,225.5 M281.7,231.1 L282.3,230.6 L283.9,230.3 L286.4,230.1 L289.6,230.1 L293.1,230.5 L296.6,231.3 L299.8,232.3 L302.3,233.6 L303.9,235.1 L304.5,236.8 M281.7,242.4 L282.3,241.9 L283.9,241.5 L286.4,241.3 L289.6,241.4 L293.1,241.8 L296.6,242.5 L299.8,243.6 L302.3,244.9 L303.9,246.4 L304.5,248 M281.7,253.6 L282.3,253.1 L283.9,252.8 L286.4,252.6 L289.6,252.6 L293.1,253 L296.6,253.8 L299.8,254.8 L302.3,256.1 L303.9,257.6 L304.5,259.2 M281.7,264.9 L282.3,264.4 L283.9,264 L286.4,263.8 L289.6,263.9 L293.1,264.3 L296.6,265 L299.8,266.1 L302.3,267.4 L303.9,268.9 L304.5,270.5 M281.7,276.1 L282.3,275.6 L283.9,275.3 L286.4,275.1 L289.6,275.1 L293.1,275.5 L296.6,276.3 L299.8,277.3 L302.3,278.6 L303.9,280.1 L304.5,281.8 M281.7,287.4 L282.3,286.9 L283.9,286.5 L286.4,286.3 L289.6,286.4 L293.1,286.8 L296.6,287.5 L299.8,288.6 L302.3,289.9 L303.9,291.4 L304.5,293 M281.7,298.6 L282.3,298.1 L283.9,297.8 L286.4,297.6 L289.6,297.6 L293.1,298 L296.6,298.8 L299.8,299.8 L302.3,301.1 L303.9,302.6 L304.5,304.2 M281.7,309.9 L282.3,309.4 L283.9,309 L286.4,308.8 L289.6,308.9 L293.1,309.3 L296.6,310 L299.8,311.1 L302.3,312.4 L303.9,313.9 L304.5,315.5" fill="none" stroke="#c4c4c4" stroke-width="2" stroke-linecap="round"/>
<path d="M304.5,203 L303.9,204.6 L302.3,206.1 L299.8,207.4 L296.6,208.5 L293.1,209.2 L289.6,209.6 L286.4,209.7 L283.9,209.5 L282.3,209.1 L281.7,208.6" fill="none" stroke="#3e3e3e" stroke-width="5.5" stroke-linecap="round"/>
<path d="M304.5,203 L303.9,204.6 L302.3,206.1 L299.8,207.4 L296.6,208.5 L293.1,209.2 L289.6,209.6 L286.4,209.7 L283.9,209.5 L282.3,209.1 L281.7,208.6" fill="none" stroke="#dcdcdc" stroke-width="2.3" stroke-linecap="round"/>
<path d="M304.5,214.2 L303.9,215.9 L302.3,217.4 L299.8,218.7 L296.6,219.7 L293.1,220.5 L289.6,220.9 L286.4,220.9 L283.9,220.7 L282.3,220.4 L281.7,219.9" fill="none" stroke="#3e3e3e" stroke-width="5.5" stroke-linecap="round"/>
<path d="M304.5,214.2 L303.9,215.9 L302.3,217.4 L299.8,218.7 L296.6,219.7 L293.1,220.5 L289.6,220.9 L286.4,220.9 L283.9,220.7 L282.3,220.4 L281.7,219.9" fill="none" stroke="#dcdcdc" stroke-width="2.3" stroke-linecap="round"/>
<path d="M304.5,225.5 L303.9,227.1 L302.3,228.6 L299.8,229.9 L296.6,231 L293.1,231.7 L289.6,232.1 L286.4,232.2 L283.9,232 L282.3,231.6 L281.7,231.1" fill="none" stroke="#3e3e3e" stroke-width="5.5" stroke-linecap="round"/>
<path d="M304.5,225.5 L303.9,227.1 L302.3,228.6 L299.8,229.9 L296.6,231 L293.1,231.7 L289.6,232.1 L286.4,232.2 L283.9,232 L282.3,231.6 L281.7,231.1" fill="none" stroke="#dcdcdc" stroke-width="2.3" stroke-linecap="round"/>
<path d="M304.5,236.8 L303.9,238.4 L302.3,239.9 L299.8,241.2 L296.6,242.2 L293.1,243 L289.6,243.4 L286.4,243.4 L283.9,243.2 L282.3,242.9 L281.7,242.4" fill="none" stroke="#3e3e3e" stroke-width="5.5" stroke-linecap="round"/>
<path d="M304.5,236.8 L303.9,238.4 L302.3,239.9 L299.8,241.2 L296.6,242.2 L293.1,243 L289.6,243.4 L286.4,243.4 L283.9,243.2 L282.3,242.9 L281.7,242.4" fill="none" stroke="#dcdcdc" stroke-width="2.3" stroke-linecap="round"/>
<path d="M304.5,248 L303.9,249.6 L302.3,251.1 L299.8,252.4 L296.6,253.5 L293.1,254.2 L289.6,254.6 L286.4,254.7 L283.9,254.5 L282.3,254.1 L281.7,253.6" fill="none" stroke="#3e3e3e" stroke-width="5.5" stroke-linecap="round"/>
<path d="M304.5,248 L303.9,249.6 L302.3,251.1 L299.8,252.4 L296.6,253.5 L293.1,254.2 L289.6,254.6 L286.4,254.7 L283.9,254.5 L282.3,254.1 L281.7,253.6" fill="none" stroke="#dcdcdc" stroke-width="2.3" stroke-linecap="round"/>
<path d="M304.5,259.2 L303.9,260.9 L302.3,262.4 L299.8,263.7 L296.6,264.7 L293.1,265.5 L289.6,265.9 L286.4,265.9 L283.9,265.7 L282.3,265.4 L281.7,264.9" fill="none" stroke="#3e3e3e" stroke-width="5.5" stroke-linecap="round"/>
<path d="M304.5,259.2 L303.9,260.9 L302.3,262.4 L299.8,263.7 L296.6,264.7 L293.1,265.5 L289.6,265.9 L286.4,265.9 L283.9,265.7 L282.3,265.4 L281.7,264.9" fill="none" stroke="#dcdcdc" stroke-width="2.3" stroke-linecap="round"/>
<path d="M304.5,270.5 L303.9,272.1 L302.3,273.6 L299.8,274.9 L296.6,276 L293.1,276.7 L289.6,277.1 L286.4,277.2 L283.9,277 L282.3,276.6 L281.7,276.1" fill="none" stroke="#3e3e3e" stroke-width="5.5" stroke-linecap="round"/>
<path d="M304.5,270.5 L303.9,272.1 L302.3,273.6 L299.8,274.9 L296.6,276 L293.1,276.7 L289.6,277.1 L286.4,277.2 L283.9,277 L282.3,276.6 L281.7,276.1" fill="none" stroke="#dcdcdc" stroke-width="2.3" stroke-linecap="round"/>
<path d="M304.5,281.8 L303.9,283.4 L302.3,284.9 L299.8,286.2 L296.6,287.2 L293.1,288 L289.6,288.4 L286.4,288.4 L283.9,288.2 L282.3,287.9 L281.7,287.4" fill="none" stroke="#3e3e3e" stroke-width="5.5" stroke-linecap="round"/>
<path d="M304.5,281.8 L303.9,283.4 L302.3,284.9 L299.8,286.2 L296.6,287.2 L293.1,288 L289.6,288.4 L286.4,288.4 L283.9,288.2 L282.3,287.9 L281.7,287.4" fill="none" stroke="#dcdcdc" stroke-width="2.3" stroke-linecap="round"/>
<path d="M304.5,293 L303.9,294.6 L302.3,296.1 L299.8,297.4 L296.6,298.5 L293.1,299.2 L289.6,299.6 L286.4,299.7 L283.9,299.5 L282.3,299.1 L281.7,298.6" fill="none" stroke="#3e3e3e" stroke-width="5.5" stroke-linecap="round"/>
<path d="M304.5,293 L303.9,294.6 L302.3,296.1 L299.8,297.4 L296.6,298.5 L293.1,299.2 L289.6,299.6 L286.4,299.7 L283.9,299.5 L282.3,299.1 L281.7,298.6" fill="none" stroke="#dcdcdc" stroke-width="2.3" stroke-linecap="round"/>
<path d="M304.5,304.2 L303.9,305.9 L302.3,307.4 L299.8,308.7 L296.6,309.7 L293.1,310.5 L289.6,310.9 L286.4,310.9 L283.9,310.7 L282.3,310.4 L281.7,309.9" fill="none" stroke="#3e3e3e" stroke-width="5.5" stroke-linecap="round"/>
<path d="M304.5,304.2 L303.9,305.9 L302.3,307.4 L299.8,308.7 L296.6,309.7 L293.1,310.5 L289.6,310.9 L286.4,310.9 L283.9,310.7 L282.3,310.4 L281.7,309.9" fill="none" stroke="#dcdcdc" stroke-width="2.3" stroke-linecap="round"/>
<ellipse cx="293.1" cy="316.5" rx="11.4" ry="4" fill="none" stroke="#3e3e3e" stroke-width="5" />
<ellipse cx="293.1" cy="316.5" rx="11.4" ry="4" fill="none" stroke="#dcdcdc" stroke-width="2.3" />
<path d="M357.1,206.9 L357.6,206.5 L359.2,206.1 L361.7,205.9 L364.8,206 L368.3,206.5 L371.8,207.2 L374.9,208.3 L377.4,209.7 L379,211.2 L379.5,212.8 M357.1,218.8 L357.6,218.3 L359.2,217.9 L361.7,217.8 L364.8,217.9 L368.3,218.3 L371.8,219.1 L374.9,220.1 L377.4,221.5 L379,223 L379.5,224.7 M357.1,230.6 L357.6,230.1 L359.2,229.8 L361.7,229.6 L364.8,229.7 L368.3,230.1 L371.8,230.9 L374.9,232 L377.4,233.3 L379,234.9 L379.5,236.5 M357.1,242.4 L357.6,242 L359.2,241.6 L361.7,241.4 L364.8,241.5 L368.3,242 L371.8,242.7 L374.9,243.8 L377.4,245.2 L379,246.7 L379.5,248.3 M357.1,254.2 L357.6,253.8 L359.2,253.4 L361.7,253.3 L364.8,253.4 L368.3,253.8 L371.8,254.6 L374.9,255.6 L377.4,257 L379,258.5 L379.5,260.2 M357.1,266.1 L357.6,265.6 L359.2,265.3 L361.7,265.1 L364.8,265.2 L368.3,265.6 L371.8,266.4 L374.9,267.5 L377.4,268.8 L379,270.4 L379.5,272 M357.1,277.9 L357.6,277.5 L359.2,277.1 L361.7,276.9 L364.8,277 L368.3,277.5 L371.8,278.2 L374.9,279.3 L377.4,280.7 L379,282.2 L379.5,283.8 M357.1,289.8 L357.6,289.3 L359.2,288.9 L361.7,288.8 L364.8,288.9 L368.3,289.3 L371.8,290.1 L374.9,291.1 L377.4,292.5 L379,294 L379.5,295.7 M357.1,301.6 L357.6,301.1 L359.2,300.8 L361.7,300.6 L364.8,300.7 L368.3,301.1 L371.8,301.9 L374.9,303 L377.4,304.3 L379,305.9 L379.5,307.5" fill="none" stroke="#3e3e3e" stroke-width="4.6" stroke-linecap="round"/>
<path d="M357.1,206.9 L357.6,206.5 L359.2,206.1 L361.7,205.9 L364.8,206 L368.3,206.5 L371.8,207.2 L374.9,208.3 L377.4,209.7 L379,211.2 L379.5,212.8 M357.1,218.8 L357.6,218.3 L359.2,217.9 L361.7,217.8 L364.8,217.9 L368.3,218.3 L371.8,219.1 L374.9,220.1 L377.4,221.5 L379,223 L379.5,224.7 M357.1,230.6 L357.6,230.1 L359.2,229.8 L361.7,229.6 L364.8,229.7 L368.3,230.1 L371.8,230.9 L374.9,232 L377.4,233.3 L379,234.9 L379.5,236.5 M357.1,242.4 L357.6,242 L359.2,241.6 L361.7,241.4 L364.8,241.5 L368.3,242 L371.8,242.7 L374.9,243.8 L377.4,245.2 L379,246.7 L379.5,248.3 M357.1,254.2 L357.6,253.8 L359.2,253.4 L361.7,253.3 L364.8,253.4 L368.3,253.8 L371.8,254.6 L374.9,255.6 L377.4,257 L379,258.5 L379.5,260.2 M357.1,266.1 L357.6,265.6 L359.2,265.3 L361.7,265.1 L364.8,265.2 L368.3,265.6 L371.8,266.4 L374.9,267.5 L377.4,268.8 L379,270.4 L379.5,272 M357.1,277.9 L357.6,277.5 L359.2,277.1 L361.7,276.9 L364.8,277 L368.3,277.5 L371.8,278.2 L374.9,279.3 L377.4,280.7 L379,282.2 L379.5,283.8 M357.1,289.8 L357.6,289.3 L359.2,288.9 L361.7,288.8 L364.8,288.9 L368.3,289.3 L371.8,290.1 L374.9,291.1 L377.4,292.5 L379,294 L379.5,295.7 M357.1,301.6 L357.6,301.1 L359.2,300.8 L361.7,300.6 L364.8,300.7 L368.3,301.1 L371.8,301.9 L374.9,303 L377.4,304.3 L379,305.9 L379.5,307.5" fill="none" stroke="#c4c4c4" stroke-width="2" stroke-linecap="round"/>
<path d="M379.5,201 L379,202.6 L377.4,204.2 L374.9,205.5 L371.8,206.6 L368.3,207.4 L364.8,207.8 L361.7,207.9 L359.2,207.7 L357.6,207.4 L357.1,206.9" fill="none" stroke="#3e3e3e" stroke-width="5.5" stroke-linecap="round"/>
<path d="M379.5,201 L379,202.6 L377.4,204.2 L374.9,205.5 L371.8,206.6 L368.3,207.4 L364.8,207.8 L361.7,207.9 L359.2,207.7 L357.6,207.4 L357.1,206.9" fill="none" stroke="#dcdcdc" stroke-width="2.3" stroke-linecap="round"/>
<path d="M379.5,212.8 L379,214.5 L377.4,216 L374.9,217.4 L371.8,218.4 L368.3,219.2 L364.8,219.6 L361.7,219.7 L359.2,219.6 L357.6,219.2 L357.1,218.8" fill="none" stroke="#3e3e3e" stroke-width="5.5" stroke-linecap="round"/>
<path d="M379.5,212.8 L379,214.5 L377.4,216 L374.9,217.4 L371.8,218.4 L368.3,219.2 L364.8,219.6 L361.7,219.7 L359.2,219.6 L357.6,219.2 L357.1,218.8" fill="none" stroke="#dcdcdc" stroke-width="2.3" stroke-linecap="round"/>
<path d="M379.5,224.7 L379,226.3 L377.4,227.8 L374.9,229.2 L371.8,230.3 L368.3,231 L364.8,231.5 L361.7,231.6 L359.2,231.4 L357.6,231 L357.1,230.6" fill="none" stroke="#3e3e3e" stroke-width="5.5" stroke-linecap="round"/>
<path d="M379.5,224.7 L379,226.3 L377.4,227.8 L374.9,229.2 L371.8,230.3 L368.3,231 L364.8,231.5 L361.7,231.6 L359.2,231.4 L357.6,231 L357.1,230.6" fill="none" stroke="#dcdcdc" stroke-width="2.3" stroke-linecap="round"/>
<path d="M379.5,236.5 L379,238.1 L377.4,239.7 L374.9,241 L371.8,242.1 L368.3,242.9 L364.8,243.3 L361.7,243.4 L359.2,243.2 L357.6,242.9 L357.1,242.4" fill="none" stroke="#3e3e3e" stroke-width="5.5" stroke-linecap="round"/>
<path d="M379.5,236.5 L379,238.1 L377.4,239.7 L374.9,241 L371.8,242.1 L368.3,242.9 L364.8,243.3 L361.7,243.4 L359.2,243.2 L357.6,242.9 L357.1,242.4" fill="none" stroke="#dcdcdc" stroke-width="2.3" stroke-linecap="round"/>
<path d="M379.5,248.3 L379,250 L377.4,251.5 L374.9,252.9 L371.8,253.9 L368.3,254.7 L364.8,255.1 L361.7,255.2 L359.2,255.1 L357.6,254.7 L357.1,254.2" fill="none" stroke="#3e3e3e" stroke-width="5.5" stroke-linecap="round"/>
<path d="M379.5,248.3 L379,250 L377.4,251.5 L374.9,252.9 L371.8,253.9 L368.3,254.7 L364.8,255.1 L361.7,255.2 L359.2,255.1 L357.6,254.7 L357.1,254.2" fill="none" stroke="#dcdcdc" stroke-width="2.3" stroke-linecap="round"/>
<path d="M379.5,260.2 L379,261.8 L377.4,263.3 L374.9,264.7 L371.8,265.8 L368.3,266.5 L364.8,267 L361.7,267.1 L359.2,266.9 L357.6,266.5 L357.1,266.1" fill="none" stroke="#3e3e3e" stroke-width="5.5" stroke-linecap="round"/>
<path d="M379.5,260.2 L379,261.8 L377.4,263.3 L374.9,264.7 L371.8,265.8 L368.3,266.5 L364.8,267 L361.7,267.1 L359.2,266.9 L357.6,266.5 L357.1,266.1" fill="none" stroke="#dcdcdc" stroke-width="2.3" stroke-linecap="round"/>
<path d="M379.5,272 L379,273.6 L377.4,275.2 L374.9,276.5 L371.8,277.6 L368.3,278.4 L364.8,278.8 L361.7,278.9 L359.2,278.7 L357.6,278.4 L357.1,277.9" fill="none" stroke="#3e3e3e" stroke-width="5.5" stroke-linecap="round"/>
<path d="M379.5,272 L379,273.6 L377.4,275.2 L374.9,276.5 L371.8,277.6 L368.3,278.4 L364.8,278.8 L361.7,278.9 L359.2,278.7 L357.6,278.4 L357.1,277.9" fill="none" stroke="#dcdcdc" stroke-width="2.3" stroke-linecap="round"/>
<path d="M379.5,283.8 L379,285.5 L377.4,287 L374.9,288.4 L371.8,289.4 L368.3,290.2 L364.8,290.6 L361.7,290.7 L359.2,290.6 L357.6,290.2 L357.1,289.8" fill="none" stroke="#3e3e3e" stroke-width="5.5" stroke-linecap="round"/>
<path d="M379.5,283.8 L379,285.5 L377.4,287 L374.9,288.4 L371.8,289.4 L368.3,290.2 L364.8,290.6 L361.7,290.7 L359.2,290.6 L357.6,290.2 L357.1,289.8" fill="none" stroke="#dcdcdc" stroke-width="2.3" stroke-linecap="round"/>
<path d="M379.5,295.7 L379,297.3 L377.4,298.8 L374.9,300.2 L371.8,301.3 L368.3,302 L364.8,302.5 L361.7,302.6 L359.2,302.4 L357.6,302 L357.1,301.6" fill="none" stroke="#3e3e3e" stroke-width="5.5" stroke-linecap="round"/>
<path d="M379.5,295.7 L379,297.3 L377.4,298.8 L374.9,300.2 L371.8,301.3 L368.3,302 L364.8,302.5 L361.7,302.6 L359.2,302.4 L357.6,302 L357.1,301.6" fill="none" stroke="#dcdcdc" stroke-width="2.3" stroke-linecap="round"/>
<ellipse cx="368.3" cy="308.5" rx="11.2" ry="4" fill="none" stroke="#3e3e3e" stroke-width="5" />
<ellipse cx="368.3" cy="308.5" rx="11.2" ry="4" fill="none" stroke="#dcdcdc" stroke-width="2.3" />
<path d="M310.2,219.3 L315.5,219.3 L315.5,301.3 L320.6,301.3 L312.9,316.8 L305.1,301.3 L310.2,301.3 Z" fill="#a020a8"/>
<path d="M328.4,215.4 L333.6,215.4 L333.6,279.9 L338.8,279.9 L331,295.4 L323.2,279.9 L328.4,279.9 Z" fill="#a020a8"/>
<path d="M247.5,170.3 L247.5,194.8 A77,18 0 0 0 401.5,194.8 L401.5,170.3 Z" fill="#cbcbcb" stroke="#555" stroke-width="1.9" stroke-linejoin="round"/>
<ellipse cx="324.5" cy="170.3" rx="77" ry="18" fill="#d6d6d6" stroke="#555" stroke-width="1.9"/>
<path d="M289.5,62.4 L289.5,157 A21,4.5 0 0 0 331.5,157 L331.5,62.4 Z" fill="#b4ced3" stroke="#393c3f" stroke-width="2" stroke-linejoin="round"/>
<ellipse cx="310.5" cy="62.4" rx="21" ry="4.5" fill="#c9dde0" stroke="#393c3f" stroke-width="2"/>
<path d="M270.1,75 L270.1,176.6 A22.1,5 0 0 0 314.3,176.6 L314.3,75 Z" fill="#b4ced3" stroke="#393c3f" stroke-width="2" stroke-linejoin="round"/>
<ellipse cx="292.2" cy="75" rx="22.1" ry="5" fill="#c9dde0" stroke="#393c3f" stroke-width="2"/>
<path d="M348.4,71.2 L348.4,170.5 A21.8,5 0 0 0 392,170.5 L392,71.2 Z" fill="#b4ced3" stroke="#393c3f" stroke-width="2" stroke-linejoin="round"/>
<ellipse cx="370.2" cy="71.2" rx="21.8" ry="5" fill="#c9dde0" stroke="#393c3f" stroke-width="2"/>
</g>
<path d="M250.2,311.9 L153.4,305.2 L153.7,300.5 L138.1,306 L152.7,315.1 L153,310.4 L249.8,317.7 Z" fill="#fa0f0f"/>
<path d="M748.8,324.4 L845.3,333.9 L845.8,329.3 L860.3,337.8 L844.4,343.5 L844.9,338.9 L748.2,330.2 Z" fill="#1272d2"/>
<path d="M399,207 Q405.5,207 405.5,213.5 L405.5,251 Q405.5,256.2 409,256.2 Q405.5,256.2 405.5,261.5 L405.5,298 Q405.5,304.4 399,304.4" fill="none" stroke="#6092d3" stroke-width="2.3"/>
<path d="M599.5,207 Q590.8,207 590.8,213.5 L590.8,251 Q590.8,256.2 587.5,256.2 Q590.8,256.2 590.8,261.5 L590.8,298.5 Q590.8,305 599.5,305" fill="none" stroke="#6092d3" stroke-width="2.3"/>
<path d="M408,256.2 L588,256.2 M500.5,224 L500.5,256.2" fill="none" stroke="#6092d3" stroke-width="2.4"/>
<text x="222.3" y="43.2" font-size="23.6" fill="#f83a3e" text-anchor="start" font-weight="normal" textLength="216.3" lengthAdjust="spacingAndGlyphs" stroke="#f83a3e" stroke-width="0.5">One spring actuated</text>
<text x="579.2" y="43" font-size="23.6" fill="#3a96ea" text-anchor="start" font-weight="normal" textLength="216.2" lengthAdjust="spacingAndGlyphs" stroke="#3a96ea" stroke-width="0.5">Two spring actuated</text>
<text x="457.8" y="177" font-size="24.2" fill="#444" text-anchor="start" font-weight="normal" textLength="85.6" lengthAdjust="spacingAndGlyphs" stroke="#444" stroke-width="0.5">Starting</text>
<text x="467.2" y="207.3" font-size="24.2" fill="#444" text-anchor="start" font-weight="normal" textLength="67.8" lengthAdjust="spacingAndGlyphs" stroke="#444" stroke-width="0.5">lenght</text>
<text x="88.2" y="384.9" font-size="24.2" fill="#5a5a5a" text-anchor="start" font-weight="bold" textLength="84.6" lengthAdjust="spacingAndGlyphs">Loading</text>
<text x="88.2" y="415.6" font-size="24.2" fill="#5a5a5a" text-anchor="start" font-weight="bold" textLength="64.6" lengthAdjust="spacingAndGlyphs">probe</text>
<text x="828.3" y="402" font-size="24.2" fill="#5a5a5a" text-anchor="start" font-weight="bold" textLength="84.3" lengthAdjust="spacingAndGlyphs">Loading</text>
<text x="848.2" y="432.7" font-size="24.2" fill="#5a5a5a" text-anchor="start" font-weight="bold" textLength="64.4" lengthAdjust="spacingAndGlyphs">probe</text>
<line x1="86" x2="944.6" y1="1095" y2="1095" stroke="#9c9c9c" stroke-width="1.5"/>
<line x1="86" x2="944.6" y1="968" y2="968" stroke="#9c9c9c" stroke-width="1.5"/>
<line x1="86" x2="944.6" y1="841.1" y2="841.1" stroke="#9c9c9c" stroke-width="1.5"/>
<line x1="86" x2="944.6" y1="714.1" y2="714.1" stroke="#9c9c9c" stroke-width="1.5"/>
<rect x="148" y="677.2" width="80.9" height="544.7" fill="#35d98a"/>
<rect x="228.9" y="754.6" width="81" height="467.3" fill="#ffc000"/>
<rect x="433" y="788.8" width="82.3" height="433.1" fill="#35d98a"/>
<rect x="515.3" y="772.8" width="80.7" height="449.1" fill="#ffc000"/>
<rect x="718.6" y="895.7" width="82.5" height="326.2" fill="#35d98a"/>
<rect x="801.1" y="890.8" width="81.3" height="331.1" fill="#ffc000"/>
<line x1="86" x2="86" y1="587.2" y2="1221.9" stroke="#8a8a8a" stroke-width="1.6"/>
<line x1="944.6" x2="944.6" y1="587.2" y2="1221.9" stroke="#a8a8a8" stroke-width="2.2"/>
<line x1="79" x2="950.6" y1="1221.9" y2="1221.9" stroke="#8a8a8a" stroke-width="1.8"/>
<line x1="79" x2="86" y1="1221.9" y2="1221.9" stroke="#8a8a8a" stroke-width="1.5"/>
<text x="67" y="1228.4" font-size="18.2" fill="#333" text-anchor="end" font-weight="normal" textLength="11.2" lengthAdjust="spacingAndGlyphs" stroke="#333" stroke-width="0.6">0</text>
<line x1="79" x2="86" y1="1095" y2="1095" stroke="#8a8a8a" stroke-width="1.5"/>
<text x="67" y="1101.5" font-size="18.2" fill="#333" text-anchor="end" font-weight="normal" textLength="11.2" lengthAdjust="spacingAndGlyphs" stroke="#333" stroke-width="0.6">5</text>
<line x1="79" x2="86" y1="968" y2="968" stroke="#8a8a8a" stroke-width="1.5"/>
<text x="67" y="974.5" font-size="18.2" fill="#333" text-anchor="end" font-weight="normal" textLength="22.8" lengthAdjust="spacingAndGlyphs" stroke="#333" stroke-width="0.6">10</text>
<line x1="79" x2="86" y1="841.1" y2="841.1" stroke="#8a8a8a" stroke-width="1.5"/>
<text x="67" y="847.6" font-size="18.2" fill="#333" text-anchor="end" font-weight="normal" textLength="22.8" lengthAdjust="spacingAndGlyphs" stroke="#333" stroke-width="0.6">15</text>
<line x1="79" x2="86" y1="714.1" y2="714.1" stroke="#8a8a8a" stroke-width="1.5"/>
<text x="67" y="720.6" font-size="18.2" fill="#333" text-anchor="end" font-weight="normal" textLength="22.8" lengthAdjust="spacingAndGlyphs" stroke="#333" stroke-width="0.6">20</text>
<line x1="79" x2="89" y1="587.2" y2="587.2" stroke="#8a8a8a" stroke-width="1.5"/>
<text x="67" y="593.7" font-size="18.2" fill="#333" text-anchor="end" font-weight="normal" textLength="22.8" lengthAdjust="spacingAndGlyphs" stroke="#333" stroke-width="0.6">25</text>
<line x1="944.6" x2="951.1" y1="1221.9" y2="1221.9" stroke="#a8a8a8" stroke-width="1.5"/>
<text x="965" y="1228.4" font-size="18.2" fill="#333" text-anchor="start" font-weight="normal" textLength="11" lengthAdjust="spacingAndGlyphs" stroke="#333" stroke-width="0.6">0</text>
<line x1="944.6" x2="951.1" y1="1142.6" y2="1142.6" stroke="#a8a8a8" stroke-width="1.5"/>
<text x="965" y="1149.1" font-size="18.2" fill="#333" text-anchor="start" font-weight="normal" textLength="11" lengthAdjust="spacingAndGlyphs" stroke="#333" stroke-width="0.6">1</text>
<line x1="944.6" x2="951.1" y1="1063.2" y2="1063.2" stroke="#a8a8a8" stroke-width="1.5"/>
<text x="965" y="1069.7" font-size="18.2" fill="#333" text-anchor="start" font-weight="normal" textLength="11" lengthAdjust="spacingAndGlyphs" stroke="#333" stroke-width="0.6">2</text>
<line x1="944.6" x2="951.1" y1="983.9" y2="983.9" stroke="#a8a8a8" stroke-width="1.5"/>
<text x="965" y="990.4" font-size="18.2" fill="#333" text-anchor="start" font-weight="normal" textLength="11" lengthAdjust="spacingAndGlyphs" stroke="#333" stroke-width="0.6">3</text>
<line x1="944.6" x2="951.1" y1="904.6" y2="904.6" stroke="#a8a8a8" stroke-width="1.5"/>
<text x="965" y="911.1" font-size="18.2" fill="#333" text-anchor="start" font-weight="normal" textLength="11" lengthAdjust="spacingAndGlyphs" stroke="#333" stroke-width="0.6">4</text>
<line x1="944.6" x2="951.1" y1="825.2" y2="825.2" stroke="#a8a8a8" stroke-width="1.5"/>
<text x="965" y="831.7" font-size="18.2" fill="#333" text-anchor="start" font-weight="normal" textLength="11" lengthAdjust="spacingAndGlyphs" stroke="#333" stroke-width="0.6">5</text>
<line x1="944.6" x2="951.1" y1="745.9" y2="745.9" stroke="#a8a8a8" stroke-width="1.5"/>
<text x="965" y="752.4" font-size="18.2" fill="#333" text-anchor="start" font-weight="normal" textLength="11" lengthAdjust="spacingAndGlyphs" stroke="#333" stroke-width="0.6">6</text>
<line x1="944.6" x2="951.1" y1="666.5" y2="666.5" stroke="#a8a8a8" stroke-width="1.5"/>
<text x="965" y="673" font-size="18.2" fill="#333" text-anchor="start" font-weight="normal" textLength="11" lengthAdjust="spacingAndGlyphs" stroke="#333" stroke-width="0.6">7</text>
<line x1="940.6" x2="951.1" y1="587.2" y2="587.2" stroke="#a8a8a8" stroke-width="1.5"/>
<text x="965" y="593.7" font-size="18.2" fill="#333" text-anchor="start" font-weight="normal" textLength="11" lengthAdjust="spacingAndGlyphs" stroke="#333" stroke-width="0.6">8</text>
<line x1="86" x2="86" y1="1221.9" y2="1228.4" stroke="#8a8a8a" stroke-width="1.5"/>
<line x1="372.2" x2="372.2" y1="1221.9" y2="1228.4" stroke="#8a8a8a" stroke-width="1.5"/>
<line x1="658.4" x2="658.4" y1="1221.9" y2="1228.4" stroke="#8a8a8a" stroke-width="1.5"/>
<line x1="944.6" x2="944.6" y1="1221.9" y2="1228.4" stroke="#8a8a8a" stroke-width="1.5"/>
<text x="229.5" y="1256.7" font-size="18.2" fill="#333" text-anchor="middle" font-weight="normal" textLength="22.8" lengthAdjust="spacingAndGlyphs" stroke="#333" stroke-width="0.6">12</text>
<text x="515.7" y="1256.7" font-size="18.2" fill="#333" text-anchor="middle" font-weight="normal" textLength="22.8" lengthAdjust="spacingAndGlyphs" stroke="#333" stroke-width="0.6">24</text>
<text x="801.7" y="1256.7" font-size="18.2" fill="#333" text-anchor="middle" font-weight="normal" textLength="22.8" lengthAdjust="spacingAndGlyphs" stroke="#333" stroke-width="0.6">36</text>
<polyline points="229.6,677.5 514.5,1017.5 800.3,1106.8" fill="none" stroke="#1e7ef0" stroke-width="4.6" stroke-linejoin="round"/>
<path d="M229.9,655.7 L229.9,694.6 M224.9,655.7 L234.9,655.7 M224.9,694.6 L234.9,694.6" fill="none" stroke="#111" stroke-width="1.6"/>
<path d="M514.8,996.9 L514.8,1046.9 M509.8,996.9 L519.8,996.9 M509.8,1046.9 L519.8,1046.9" fill="none" stroke="#111" stroke-width="1.6"/>
<path d="M800.6,1094 L800.6,1119.7 M795.6,1094 L805.6,1094 M795.6,1119.7 L805.6,1119.7" fill="none" stroke="#111" stroke-width="1.6"/>
<path d="M229.4,661.8 L229.4,694.6 M224.4,661.8 L234.4,661.8 M224.4,694.6 L234.4,694.6" fill="none" stroke="#111" stroke-width="1.6"/>
<path d="M514.3,1016 L514.3,1046.9 M509.3,1016 L519.3,1016 M509.3,1046.9 L519.3,1046.9" fill="none" stroke="#111" stroke-width="1.6"/>
<path d="M800.4,1131.2 L800.4,1162.1 M795.4,1131.2 L805.4,1131.2 M795.4,1162.1 L805.4,1162.1" fill="none" stroke="#111" stroke-width="1.6"/>
<path d="M229.6,670 L237.1,677.5 L229.6,685 L222.1,677.5 Z" fill="#5f8fc8" stroke="#2f80e8" stroke-width="1.4"/>
<path d="M514.5,1010 L522,1017.5 L514.5,1025 L507,1017.5 Z" fill="#5f8fc8" stroke="#2f80e8" stroke-width="1.4"/>
<path d="M800.3,1099.3 L807.8,1106.8 L800.3,1114.3 L792.8,1106.8 Z" fill="#5f8fc8" stroke="#2f80e8" stroke-width="1.4"/>
<polyline points="228.9,678.8 513.8,1031.5 799.9,1146.7" fill="none" stroke="#c00000" stroke-width="4.6" stroke-linejoin="round"/>
<rect x="222.1" y="672" width="13.6" height="13.6" fill="#c8585c" stroke="#c8202a" stroke-width="1.8"/>
<rect x="507" y="1024.7" width="13.6" height="13.6" fill="#c8585c" stroke="#c8202a" stroke-width="1.8"/>
<rect x="793.1" y="1139.9" width="13.6" height="13.6" fill="#c8585c" stroke="#c8202a" stroke-width="1.8"/>
<rect x="264.8" y="505" width="39.6" height="17" fill="#35d98a"/>
<rect x="264.8" y="554.5" width="39.6" height="17" fill="#ffc000"/>
<line x1="264.8" x2="304.4" y1="612.2" y2="612.2" stroke="#1e7ef0" stroke-width="3.4"/>
<path d="M284.4,606.7 L289.9,612.2 L284.4,617.7 L278.9,612.2 Z" fill="#5f8fc8" stroke="#2f80e8" stroke-width="1"/>
<line x1="264.8" x2="304.4" y1="661.7" y2="661.7" stroke="#c00000" stroke-width="3.4"/>
<rect x="278.4" y="655.7" width="12" height="12" fill="#c8585c" stroke="#c8202a" stroke-width="1.5"/>
<text x="307.2" y="521.9" font-size="28.2" fill="#262626" text-anchor="start" font-weight="normal" textLength="639.5" lengthAdjust="spacingAndGlyphs" stroke="#262626" stroke-width="0.7">Spring displacement (mm) - two springs actuated</text>
<text x="307.2" y="571.4" font-size="28.2" fill="#262626" text-anchor="start" font-weight="normal" textLength="625.4" lengthAdjust="spacingAndGlyphs" stroke="#262626" stroke-width="0.7">Spring displacement (mm) - one spring actuated</text>
<text x="307.2" y="620.2" font-size="28.2" fill="#262626" text-anchor="start" font-weight="normal" textLength="570" lengthAdjust="spacingAndGlyphs" stroke="#262626" stroke-width="0.7">Max. Shear Force (N) - two springs actuated</text>
<text x="307.2" y="669.4" font-size="28.2" fill="#262626" text-anchor="start" font-weight="normal" textLength="556" lengthAdjust="spacingAndGlyphs" stroke="#262626" stroke-width="0.7">Max. Shear Force (N) - one spring actuated</text>
<text x="359.6" y="1297.8" font-size="32" fill="#111" text-anchor="start" font-weight="bold" textLength="310.5" lengthAdjust="spacingAndGlyphs" xml:space="preserve">Starting Length (mm)</text>
<text transform="translate(27.6,995.6) rotate(-90)" font-size="32" font-weight="bold" fill="#111" textLength="183" lengthAdjust="spacingAndGlyphs">Length (mm)</text>
<text transform="translate(1016,1021.3) rotate(-90)" font-size="32" font-weight="bold" fill="#111" textLength="233.5" lengthAdjust="spacingAndGlyphs">Shear Forces (N)</text>
</svg>
</body></html>
